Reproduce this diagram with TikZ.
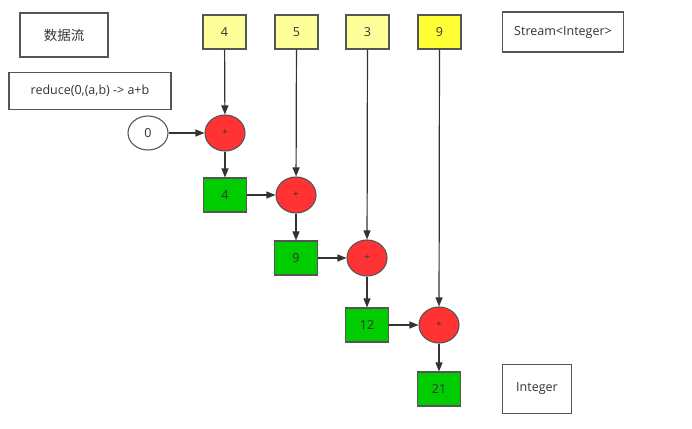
\documentclass[tikz,border=0pt]{standalone}
\usepackage{fontspec}
\setmainfont{Open Sans}
\newfontfamily\cjk{Noto Sans CJK SC}
\usetikzlibrary{arrows.meta, shapes.geometric}
\definecolor{lightyellow}{HTML}{FFFF99}
\definecolor{brightyellow}{HTML}{FFFF33}
\definecolor{plusred}{HTML}{FF3333}
\definecolor{resgreen}{HTML}{00CC00}
\definecolor{edgegray}{HTML}{555555}
\definecolor{textgray}{HTML}{333333}

\begin{document}
\begin{tikzpicture}[
            x=1pt, y=-1pt,
            font=\fontsize{12.5}{14}\selectfont, text=textgray,
            label/.style={draw=edgegray, line width=1.1pt, fill=white, inner sep=0pt},
            item/.style={draw=edgegray, line width=1.1pt, minimum width=43pt, minimum height=34pt, inner sep=0pt},
            plus/.style={ellipse, draw=edgegray, line width=1.1pt, fill=plusred, minimum width=40pt, minimum height=36pt, inner sep=0pt, font=\fontsize{10}{11}\selectfont},
            flow/.style={arrows={-Triangle[length=9pt, width=7pt]}, draw=textgray, line width=1.2pt}
        ]
        \useasboundingbox (0,0) rectangle (692,428);

        % labels
        \node[label, minimum width=88pt, minimum height=44pt] (title) at (64,35) {\cjk\fontsize{13.5}{15}\selectfont 数据流};
        \node[label, minimum width=162pt, minimum height=37pt] (op) at (90,91) {reduce(0,(a,b) -> a+b};
        \node[label, minimum width=121pt, minimum height=40pt] (in) at (563,32) {Stream<Integer>};
        \node[label, minimum width=69pt, minimum height=49pt] (out) at (537,389) {Integer};

        % stream elements
        \node[item, fill=lightyellow] (s1) at (224.5,32) {4};
        \node[item, fill=lightyellow] (s2) at (296.5,32) {5};
        \node[item, fill=lightyellow] (s3) at (367.5,32) {3};
        \node[item, fill=brightyellow] (s4) at (439.5,32) {9};

        % start value
        \node[ellipse, draw=edgegray, line width=1.1pt, minimum width=40pt, minimum height=34pt, inner sep=0pt] (zero) at (148,133) {0};

        % accumulation
        \node[plus] (p1) at (225,133) {+};
        \node[item, fill=resgreen] (r1) at (225,195) {4};
        \node[plus] (p2) at (296,195) {+};
        \node[item, fill=resgreen] (r2) at (296,258) {9};
        \node[plus] (p3) at (367,258) {+};
        \node[item, fill=resgreen] (r3) at (367,325) {12};
        \node[plus] (p4) at (439,325) {+};
        \node[item, fill=resgreen] (r4) at (439,389) {21};

        \draw[flow] (zero) -- (p1);
        \draw[flow] (s1) -- (p1);
        \draw[flow] (p1) -- (r1);
        \draw[flow] (r1) -- (p2);
        \draw[flow] (s2) -- (p2);
        \draw[flow] (p2) -- (r2);
        \draw[flow] (r2) -- (p3);
        \draw[flow] (s3) -- (p3);
        \draw[flow] (p3) -- (r3);
        \draw[flow] (r3) -- (p4);
        \draw[flow] (s4) -- (p4);
        \draw[flow] (p4) -- (r4);
    \end{tikzpicture}
\end{document}
